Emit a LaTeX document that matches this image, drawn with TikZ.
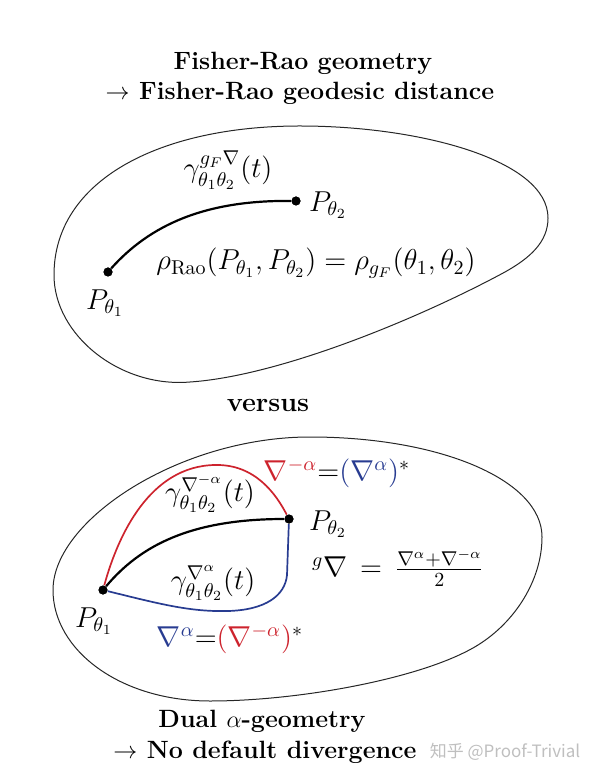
\documentclass[tikz,border=0pt]{standalone}
\usepackage{amsmath}
\usepackage{fontspec}
\newfontfamily\cjk{Noto Sans CJK SC}
\definecolor{dred}{RGB}{205,35,45}
\definecolor{dblue}{RGB}{40,60,145}
\tikzset{
  blob/.style={draw=black!85, line width=0.5pt},
  geo/.style={line width=1.1pt},
  dot/.style={circle, fill=black, inner sep=0pt, minimum size=4.5pt},
  title/.style={font=\fontsize{12.5}{15}\selectfont\bfseries, align=center, inner sep=0pt},
  lab/.style={font=\fontsize{14.4}{17}\selectfont, inner sep=0pt},
}
\begin{document}
\begin{tikzpicture}[x=0.5pt, y=-0.5pt]
\useasboundingbox (0,0) rectangle (600,779);

% titles
\node[title] (t1) at (303,63) {Fisher-Rao geometry};
\node[title] (t2) at (300,93) {$\rightarrow$ Fisher-Rao geodesic distance};
\node[title, font=\fontsize{13.5}{16}\selectfont\bfseries] (vs) at (268,405) {versus};
\node[title] (t3) at (262,721) {Dual $\alpha$-geometry};
\node[title] (t4) at (265,752) {$\rightarrow$ No default divergence};
\node[inner sep=0pt, text=black!25, font=\cjk\fontsize{8.5}{10}\selectfont] (wm) at (505,752) {知乎 @Proof-Trivial};

% upper blob
\draw[blob] (54,275) .. controls (54,180) and (160,126) .. (300,126)
  .. controls (420,126) and (548,160) .. (548,218)
  .. controls (548,242) and (530,258) .. (505,272)
  .. controls (420,318) and (280,376) .. (190,382)
  .. controls (120,388) and (54,335) .. cycle;

% upper geodesic
\node[dot] (a1) at (108,272) {};
\node[dot] (a2) at (296,201) {};
\draw[geo] (a1) .. controls (150,225) and (205,200) .. (a2);
\node[dot] at (a1) {};
\node[dot] at (a2) {};
\node[lab] (a1l) at (105,303) {$P_{\theta_1}$};
\node[lab] (a2l) at (328,205) {$P_{\theta_2}$};
\node[lab] (ag) at (228,170) {$\gamma^{g_F\nabla}_{\theta_1\theta_2}(t)$};
\node[lab] (rho) at (316,263) {$\rho_{\mathrm{Rao}}(P_{\theta_1},P_{\theta_2})=\rho_{g_F}(\theta_1,\theta_2)$};

% lower blob
\draw[blob] (53,590) .. controls (53,520) and (180,437) .. (310,437)
  .. controls (440,437) and (542,480) .. (542,537)
  .. controls (542,580) and (515,622) .. (478,645)
  .. controls (425,678) and (300,701) .. (210,701)
  .. controls (120,701) and (53,650) .. cycle;

\node[dot] (b1) at (103,590) {};
\node[dot] (b2) at (289,519) {};
\draw[geo] (b1) .. controls (140,546) and (190,519) .. (b2);
\draw[dred, line width=0.85pt] (b1) .. controls (118,535) and (150,466) .. (215,465)
   .. controls (255,464) and (276,494) .. (b2);
\draw[dblue, line width=0.85pt] (b1) .. controls (160,604) and (190,612) .. (228,611)
   .. controls (265,610) and (285,596) .. (287,575) -- (b2);
\node[dot] at (b1) {};
\node[dot] at (b2) {};
\node[lab] (b1l) at (94,621) {$P_{\theta_1}$};
\node[lab] (b2l) at (328,524) {$P_{\theta_2}$};
\node[lab] (bgr) at (210,494) {$\gamma^{\nabla^{-\alpha}}_{\theta_1\theta_2}(t)$};
\node[lab] (bgb) at (213,583) {$\gamma^{\nabla^{\alpha}}_{\theta_1\theta_2}(t)$};
\node[lab] (rl) at (337,473) {$\color{dred}\nabla^{-\alpha}\color{black}{=}\color{dblue}(\nabla^{\alpha})\color{black}^{*}$};
\node[lab] (bl) at (230,639) {$\color{dblue}\nabla^{\alpha}\color{black}{=}\color{dred}(\nabla^{-\alpha})\color{black}^{*}$};
\node[lab] (gn) at (398,568) {${}^{g}\nabla\,=\,\tfrac{\nabla^{\alpha}+\nabla^{-\alpha}}{2}$};
\end{tikzpicture}
\end{document}
